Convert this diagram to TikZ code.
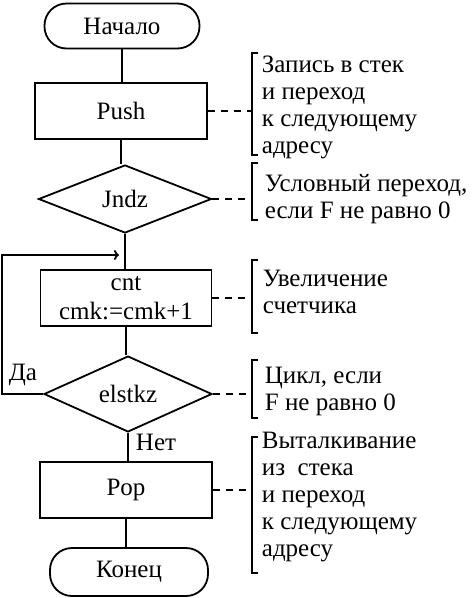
\documentclass[tikz,border=0pt]{standalone}
\usepackage{fontspec}
\setmainfont{Liberation Serif}
\usetikzlibrary{shapes.geometric,arrows.meta}
\begin{document}
\begin{tikzpicture}[x=1pt,y=-1pt,line width=1.8pt,
  every node/.style={font=\fontsize{25}{27}\selectfont, inner sep=0pt},
  term/.style={draw, rounded corners=22pt, minimum width=155pt, minimum height=45pt},
  proc/.style={draw, minimum width=172pt, minimum height=56pt, align=center},
  dec/.style={draw, diamond, minimum width=172pt, minimum height=68pt},
  note/.style={anchor=west, align=left},
  dsh/.style={line width=1.4pt, dash pattern=on 7pt off 6pt},
  brk/.style={line width=2.2pt}]
\useasboundingbox (0,0) rectangle (474,598);
% flowchart
\node[term] (start) at (122,26) {Начало};
\node[proc] (push) at (121,111) {Push};
\node[dec, minimum width=173pt] (jndz) at (125,199) {Jndz};
\node[proc, minimum width=171pt, font=\fontsize{25}{29}\selectfont] (cnt) at (126,298) {cnt\\cmk:=cmk+1};
\node[dec, minimum width=168pt, minimum height=67pt] (els) at (128,394) {elstkz};
\node[proc] (pop) at (126,490) {Pop};
\node[term, minimum width=158pt, minimum height=48pt] (end) at (129,572) {Конец};
\draw (start.south) -- (start.south |- push.north);
\draw (push.south) -- (push.south |- jndz.north);
\draw (jndz.south) -- (jndz.south |- cnt.north);
\draw (cnt.south) -- (cnt.south |- els.north);
\draw (els.south) -- (els.south |- pop.north);
\draw (pop.south) -- (pop.south |- end.north);
% loop
\coordinate (lx) at (2,0);
\coordinate (loopend) at (119,255);
\draw[-{To[length=5pt,width=10pt]}] (els.west) -- (els.west -| lx) |- (loopend);
\node (da) at (23,375) {Да};
\node (net) at (156,442) {Нет};
% annotations
\coordinate (bx) at (252,0);
\draw[dsh] (push.east) -- (push.east -| bx);
\draw[dsh] (jndz.east) -- (jndz.east -| bx);
\draw[dsh] (cnt.east) -- (cnt.east -| bx);
\draw[dsh] (els.east) -- (els.east -| bx);
\draw[dsh] (pop.east) -- (pop.east -| bx);
\draw[brk] (258,53) -- (252,53) -- (252,155) -- (258,155);
\draw[brk] (258,163) -- (252,163) -- (252,220) -- (258,220);
\draw[brk] (258,260) -- (252,260) -- (252,333) -- (258,333);
\draw[brk] (258,360) -- (252,360) -- (252,418) -- (258,418);
\draw[brk] (258,437) -- (252,437) -- (252,573) -- (258,573);
\node[note] (tpush) at (261,107) {Запись в стек\\и переход\\к следующему\\адресу};
\node[note] (tjndz) at (264,199) {Условный переход,\\если F не равно 0};
\node[note] (tcnt) at (262,292) {Увеличение\\счетчика};
\node[note] (tels) at (264,391) {Цикл, если\\F не равно 0};
\node[note] (tpop) at (261,497) {Выталкивание\\из~~стека\\и переход\\к следующему\\адресу};
\end{tikzpicture}
\end{document}
